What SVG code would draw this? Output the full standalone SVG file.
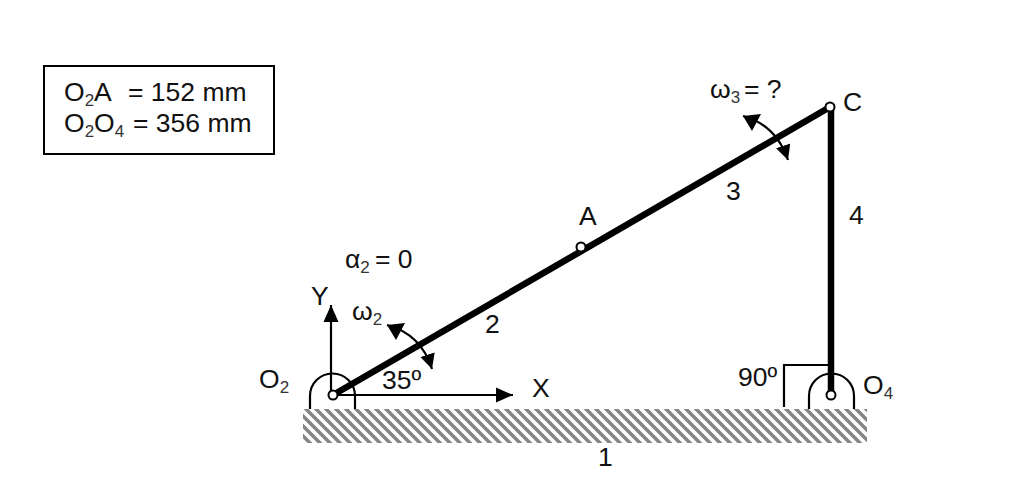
<svg xmlns="http://www.w3.org/2000/svg" width="1024" height="492" viewBox="0 0 1024 492">
<style>
text{font-family:"Liberation Sans",Arial,sans-serif;font-size:26.5px;fill:#111}
.s{font-size:17px;fill:#333}
.th{fill:none;stroke:#000;stroke-width:2.2}
.bar{fill:none;stroke:#000;stroke-width:6.5}
.pin{fill:#fff;stroke:#000;stroke-width:2}
</style>
<defs>
<pattern id="hatch" patternUnits="userSpaceOnUse" x="306" y="409" width="10" height="10">
<rect width="10" height="10" fill="#fff"/>
<path d="M-2.500 -2.500L12.500 12.500M-2.500 7.500L2.500 12.500M7.500 -2.500L12.500 2.500" stroke="#858585" stroke-width="3.500"/>
</pattern>
<marker id="ah" markerUnits="userSpaceOnUse" markerWidth="18" markerHeight="16" refX="17" refY="8" orient="auto"><path d="M0 0.500L17 8L0 15.500Z" fill="#000"/></marker>
<marker id="cv" markerUnits="userSpaceOnUse" markerWidth="16" markerHeight="16" refX="15" refY="8" orient="auto"><path d="M0 0.500L15 8L0 15.500Z" fill="#000"/></marker>
</defs>
<g id="ground"><rect x="303" y="409" width="564" height="34" fill="url(#hatch)"/><text x="598" y="466">1</text></g>
<g id="data-box"><rect x="44" y="66" width="230" height="88" fill="#fff" stroke="#000" stroke-width="2"/>
<text x="64" y="101">O<tspan class="s" dy="5">2</tspan><tspan dy="-5">A</tspan></text><text x="128" y="101">= 152 mm</text>
<text x="64" y="132">O<tspan class="s" dy="5">2</tspan><tspan dy="-5">O</tspan><tspan class="s" dy="5">4</tspan></text><text x="133" y="132">= 356 mm</text></g>
<g id="connectors">
<path class="th" d="M331 394V305" marker-end="url(#ah)"/>
<path class="th" d="M333 395H513" marker-end="url(#ah)"/>
<path class="th" d="M784 407V365H829"/>
<path class="th" d="M387 325Q421 334 432 369" marker-end="url(#cv)"/>
<path class="th" d="M743 116Q776 125 788 160" marker-end="url(#cv)"/>
<path d="M387 325L405 323L396 340Z M743 116L761 114L752 131Z" fill="#000"/>
<path class="bar" d="M333 395L830 107"/>
<path class="bar" d="M831 107V395"/>
</g>
<g id="O2"><path class="th" d="M310 409V396A22.500 22.500 0 0 1 355 396V409"/><circle class="pin" cx="333" cy="395" r="4.500"/><text x="259" y="388">O<tspan class="s" dy="5">2</tspan></text></g>
<g id="O4"><path class="th" d="M809 409V396A22.500 22.500 0 0 1 854 396V409"/><circle class="pin" cx="831" cy="395" r="4.500"/><text x="863" y="394">O<tspan class="s" dy="5">4</tspan></text></g>
<g id="A"><circle class="pin" cx="581" cy="247" r="4.500"/><text x="579" y="225">A</text></g>
<g id="C"><circle class="pin" cx="830" cy="107" r="4.500"/><text x="843" y="111">C</text></g>
<g id="labels">
<text x="311" y="305">Y</text><text x="532" y="397">X</text>
<text x="382" y="389">35º</text><text x="738" y="386">90º</text>
<text x="485" y="333">2</text><text x="726" y="200">3</text><text x="849" y="224">4</text>
<text x="352" y="320">ω<tspan class="s" dy="5">2</tspan></text>
<text x="345" y="268">α<tspan class="s" dy="5">2</tspan></text><text x="375" y="268">= 0</text>
<text x="710" y="98">ω<tspan class="s" dy="5">3</tspan></text><text x="744" y="98">= ?</text>
</g>
</svg>
